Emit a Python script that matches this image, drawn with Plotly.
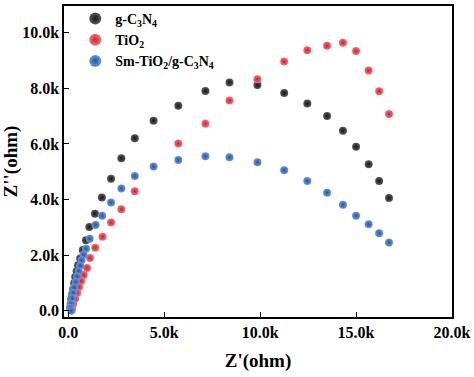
import plotly.graph_objects as go

# g-C3N4
gcn_x = [16718, 16203, 15656, 15001, 14316, 13490, 12460, 11254, 9862, 8403, 7150, 5737, 4449, 3469, 2768, 2232, 1753, 1392, 1098, 928, 758, 619, 515, 438, 361, 309, 258, 206, 155, 129, 103]
gcn_y = [4058, 4664, 5269, 5899, 6469, 7003, 7451, 7832, 8117, 8213, 7903, 7369, 6835, 6205, 5482, 4745, 4069, 3489, 3015, 2538, 2182, 1876, 1638, 1424, 1210, 997, 783, 605, 427, 249, 107]

# TiO2
tio_x = [16718, 16203, 15656, 15001, 14316, 13490, 12460, 11254, 9862, 8403, 7150, 5737, 3469, 2768, 2232, 1789, 1407, 1134, 979, 809, 670, 567, 464, 361, 258, 206, 180]
tio_y = [7074, 7893, 8640, 9338, 9637, 9530, 9373, 8961, 8330, 7558, 6728, 6016, 4297, 3650, 3170, 2659, 2268, 1897, 1541, 1282, 1068, 854, 641, 427, 249, 107, 36]

# Sm-TiO2/g-C3N4
sm_x = [16718, 16203, 15656, 15001, 14316, 13490, 12460, 11254, 9862, 8403, 7150, 5737, 4449, 3469, 2768, 2232, 1768, 1428, 1119, 928, 799, 696, 619, 541, 464, 386, 309, 258, 206, 155, 129, 155]
sm_y = [2456, 2787, 3108, 3418, 3809, 4247, 4664, 5055, 5340, 5518, 5554, 5422, 5187, 4842, 4397, 3891, 3418, 3087, 2588, 2232, 2011, 1816, 1620, 1424, 1228, 1032, 837, 641, 445, 249, 107, 0]

x_ticks = [0, 5000, 10000, 15000, 20000]
x_labels = ["0.0", "5.0k", "10.0k", "15.0k", "20.0k"]
y_ticks = [0, 2000, 4000, 6000, 8000, 10000]
y_labels = ["0.0", "2.0k", "4.0k", "6.0k", "8.0k", "10.0k"]

FONT = "Liberation Serif"

fig = go.Figure()
series = [
    ("g-C<sub>3</sub>N<sub>4</sub>", gcn_x, gcn_y, "#5a5a5a", "#161616"),
    ("TiO<sub>2</sub>", tio_x, tio_y, "#f4707a", "#d0202c"),
    ("Sm-TiO<sub>2</sub>/g-C<sub>3</sub>N<sub>4</sub>", sm_x, sm_y, "#6a96dc", "#2454a8"),
]
for name, xs, ys, c1, c2 in series:
    fig.add_trace(go.Scatter(
        x=xs, y=ys, mode="markers", name=name,
        marker=dict(size=8, color=c1, gradient=dict(type="radial", color=c2),
                    line=dict(width=0)),
    ))

axis_common = dict(
    showline=True, linecolor="black", linewidth=1.5, mirror=True,
    ticks="inside", ticklen=5, tickwidth=1.2, tickcolor="black",
    showgrid=False, zeroline=False,
    tickfont=dict(family=FONT, size=16, color="black", weight="bold"),
)

fig.update_xaxes(range=[-220, 20000], tickvals=x_ticks, ticktext=x_labels,
                 title=dict(text="Z'(ohm)", font=dict(family=FONT, size=19, color="black", weight="bold"), standoff=14),
                 **axis_common)
fig.update_yaxes(range=[-225, 10960], tickvals=y_ticks, ticktext=y_labels,
                 title=dict(text="Z''(ohm)", font=dict(family=FONT, size=19, color="black", weight="bold"), standoff=6),
                 **axis_common)

fig.update_layout(
    width=474, height=377,
    margin=dict(l=63, r=20, t=3, b=60),
    plot_bgcolor="white", paper_bgcolor="white",
    legend=dict(x=0.029, y=1.01, xanchor="left", yanchor="top", bgcolor="rgba(0,0,0,0)",
                font=dict(family=FONT, size=14, color="black", weight="bold"),
                itemsizing="constant", tracegroupgap=0),
    showlegend=True,
)

fig.write_html("out.html", config={"displayModeBar": False},
               post_script="document.body.style.margin='0';document.body.style.padding='0';")
